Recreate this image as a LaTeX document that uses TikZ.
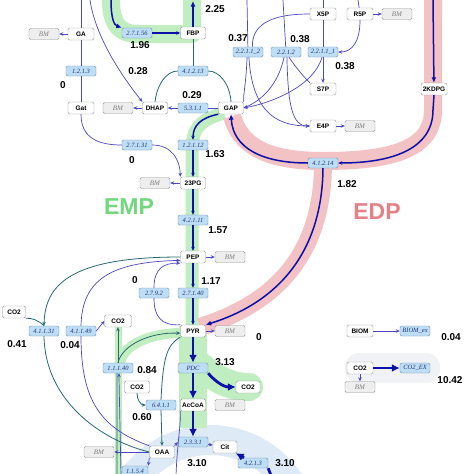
\documentclass[tikz,border=0pt]{standalone}
\usepackage{fontspec}
\setmainfont{Liberation Sans}
\newfontfamily\enzfamily{Liberation Serif}
\usetikzlibrary{arrows.meta}

\definecolor{rxnblue}{RGB}{78,72,190}
\definecolor{rxnteal}{RGB}{40,105,110}
\definecolor{mainblue}{RGB}{12,16,168}
\definecolor{enzfill}{RGB}{190,222,245}
\definecolor{enzline}{RGB}{110,145,180}
\definecolor{enztext}{RGB}{30,50,120}
\definecolor{metline}{RGB}{150,150,150}
\definecolor{bmfill}{RGB}{238,238,238}
\definecolor{empband}{RGB}{192,238,192}
\definecolor{emptext}{RGB}{115,215,125}
\definecolor{edpband}{RGB}{243,194,197}
\definecolor{edptext}{RGB}{228,128,135}
\definecolor{tcaband}{RGB}{222,234,245}
\definecolor{exband}{RGB}{240,242,245}

\tikzset{
  met/.style={draw=metline, fill=white, rounded corners=1.5, inner sep=0,
    minimum width=25, minimum height=12, font=\bfseries\fontsize{6.5}{7}\selectfont},
  enz/.style={draw=enzline, fill=enzfill, rounded corners=1.5, inner sep=0,
    minimum width=30, minimum height=10, text=enztext,
    font=\enzfamily\itshape\fontsize{6.5}{7}\selectfont},
  bm/.style={draw=metline, fill=bmfill, rounded corners=1.5, inner sep=0,
    minimum width=30, minimum height=11, text=gray,
    font=\enzfamily\itshape\fontsize{7}{8}\selectfont},
  flux/.style={font=\bfseries\fontsize{10}{12}\selectfont},
  rxn/.style={draw=rxnblue, line width=.7},
  rxnt/.style={draw=rxnteal, line width=.8},
  main/.style={draw=mainblue, line width=1.5},
  big/.style={draw=mainblue, line width=2.8},
  arr/.style={-{Stealth[length=4,width=3.5]}},
  midarr/.style={-{Latex[length=5.5,width=5]}},
  bigarr/.style={-{Latex[length=8,width=8]}},
}

\begin{document}
\begin{tikzpicture}[x=1pt,y=-1pt]
  \useasboundingbox (0,0) rectangle (474,474);
  \clip (0,0) rectangle (474,474);
  \fill[white] (0,0) rectangle (474,474);

  % pathway shading
  \draw[tcaband, line width=30] (210,535) circle[radius=95];
  \fill[exband, rounded corners=14] (345,353) rectangle (440,383);
  \draw[empband, line width=18, line join=round] (111,0) .. controls (111,22) and (118,34) .. (138,34) -- (192,34) -- (192,0);
  \draw[empband, line width=13] (224,113) .. controls (200,120) and (192,128) .. (192,150) -- (192,330);
  \draw[empband, line width=28] (193,326) -- (193,428);
  \draw[empband, line width=10] (182,333) .. controls (150,333) and (122,345) .. (120,364);
  \draw[empband, line width=7] (118,327) -- (118,474);
  \draw[empband, line width=28, line cap=round] (200,366) .. controls (215,378) and (228,387) .. (249,387);
  \draw[edpband, line width=18] (433,0) -- (433,110) .. controls (433,150) and (390,161) .. (323,161) .. controls (265,161) and (240,145) .. (232,116);
  \draw[edpband, line width=18] (323,165) .. controls (322,260) and (270,305) .. (200,327);

  \node[font=\bfseries\fontsize{23}{26}\selectfont, text=emptext] (emp) at (129,207) {EMP};
  \node[font=\bfseries\fontsize{23}{26}\selectfont, text=edptext] (edp) at (377,212) {EDP};

  % metabolites
  \node[met, minimum width=26] (ga) at (81,34) {GA};
  \node[met, minimum width=26] (gat) at (81,108) {Gat};
  \node[met] (dhap) at (155,108) {DHAP};
  \node[met] (gap) at (231,108) {GAP};
  \node[met] (fbp) at (193,33) {FBP};
  \node[met] (pg23) at (193,183) {23PG};
  \node[met] (pep) at (193,257) {PEP};
  \node[met] (pyr) at (193,331) {PYR};
  \node[met, minimum width=23] (co2a) at (14,312) {CO2};
  \node[met, minimum width=27] (co2b) at (118,321) {CO2};
  \node[met, minimum width=24] (co2c) at (248,387) {CO2};
  \node[met, minimum width=25] (co2d) at (137,387) {CO2};
  \node[met] (accoa) at (193,405) {AcCoA};
  \node[met] (oaa) at (162,452) {OAA};
  \node[met, minimum width=24] (cit) at (225,447) {Cit};
  \node[met, minimum width=26] (biom) at (360,331) {BIOM};
  \node[met, minimum width=26] (co2e) at (360,368) {CO2};
  \node[met, minimum width=26] (x5p) at (323,14) {X5P};
  \node[met, minimum width=26] (r5p) at (360,14) {R5P};
  \node[met, minimum width=26] (s7p) at (323,89) {S7P};
  \node[met, minimum width=26] (e4p) at (323,126) {E4P};
  \node[met, minimum width=26] (kdpg) at (434,89) {2KDPG};

  % biomass drains
  \node[bm] (bmga) at (44,34) {BM};
  \node[bm] (bmdhap) at (118,108) {BM};
  \node[bm] (bmpg) at (155,183) {BM};
  \node[bm] (bmpep) at (230,257) {BM};
  \node[bm] (bmpyr) at (230,331) {BM};
  \node[bm] (bmaccoa) at (230,405) {BM};
  \node[bm] (bmoaa) at (99,452) {BM};
  \node[bm] (bmr5p) at (397,14) {BM};
  \node[bm] (bme4p) at (360,126) {BM};
  \node[bm] (bmco2) at (360,387) {BM};

  % enzymes
  \node[enz] (e1213) at (81,71) {1.2.1.3};
  \node[enz] (e27131) at (137,145) {2.7.1.31};
  \node[enz] (e5311) at (193,108) {5.3.1.1};
  \node[enz] (e41213) at (193,71) {4.1.2.13};
  \node[enz] (e27156) at (137,33) {2.7.1.56};
  \node[enz] (e12112) at (193,145) {1.2.1.12};
  \node[enz] (e42111) at (193,220) {4.2.1.11};
  \node[enz] (e2792) at (154,293) {2.7.9.2};
  \node[enz] (e27140) at (193,293) {2.7.1.40};
  \node[enz] (e41131) at (44,331) {4.1.1.31};
  \node[enz] (e41149) at (81,331) {4.1.1.49};
  \node[enz] (e11140) at (118,368) {1.1.1.40};
  \node[enz] (pdc) at (193,368) {PDC};
  \node[enz] (e6411) at (161,405) {6.4.1.1};
  \node[enz] (e2331) at (193,442) {2.3.3.1};
  \node[enz, minimum width=26] (e1154) at (135,471) {1.1.5.4};
  \node[enz] (e4213) at (253,463) {4.2.1.3};
  \node[enz] (biomex) at (415,331) {BIOM\_ex};
  \node[enz] (co2ex) at (415,368) {CO2\_EX};
  \node[enz] (e22112) at (248,52) {2.2.1.1\_2};
  \node[enz] (e2212) at (286,52) {2.2.1.2};
  \node[enz] (e22111) at (323,52) {2.2.1.1\_1};
  \node[enz] (e41214) at (323,163) {4.1.2.14};

  % fluxes
  \node[flux] (v1) at (215,9) {2.25};
  \node[flux] (v2) at (140,45) {1.96};
  \node[flux] (v3) at (63,85) {0};
  \node[flux] (v4) at (138,71) {0.28};
  \node[flux] (v5) at (192,95) {0.29};
  \node[flux] (v6) at (215,154) {1.63};
  \node[flux] (v7) at (132,160) {0};
  \node[flux] (v8) at (218,230) {1.57};
  \node[flux] (v9) at (135,280) {0};
  \node[flux] (v10) at (211,281) {1.17};
  \node[flux] (v11) at (17,344) {0.41};
  \node[flux] (v12) at (70,345) {0.04};
  \node[flux] (v13) at (147,370) {0.84};
  \node[flux] (v14) at (225,362) {3.13};
  \node[flux] (v15) at (259,337) {0};
  \node[flux] (v16) at (142,417) {0.60};
  \node[flux] (v17) at (197,463) {3.10};
  \node[flux] (v18) at (285,463) {3.10};
  \node[flux] (v19) at (451,337) {0.04};
  \node[flux] (v20) at (450,380) {10.42};
  \node[flux] (v21) at (238,38) {0.37};
  \node[flux] (v22) at (300,39) {0.38};
  \node[flux] (v23) at (345,66) {0.38};
  \node[flux] (v24) at (347,184) {1.82};

  % loose ends at the border
  \coordinate (inga) at (81,0);
  \coordinate (indhap) at (90,0);
  \coordinate (inhk) at (111,0);
  \coordinate (outfbp) at (193,1);
  \coordinate (intka) at (247,0);
  \coordinate (intal) at (283,0);
  \coordinate (inx5p) at (323,0);
  \coordinate (inr5p) at (358,0);
  \coordinate (inkdpg) at (433,0);
  \coordinate (inmaea) at (117,476);
  \coordinate (inmaeb) at (121,476);
  \coordinate (outaccoa) at (176,476);
  \coordinate (intca) at (272,478);

  % upper glycolysis
  \draw[rxn] (inga) -- (ga);
  \draw[rxn, arr] (ga) -- (bmga);
  \draw[rxn] (ga) -- (e1213) -- (gat);
  \draw[rxn] (gat.south) .. controls (81,138) and (98,145) .. (e27131.west);
  \draw[rxn, arr] (e27131.east) .. controls (172,145) and (180,160) .. (pg23.north west);
  \draw[rxn, arr] (indhap) .. controls (96,40) and (125,80) .. (dhap.north west);
  \draw[rxn, arr] (dhap) -- (bmdhap);
  \draw[rxn, arr] (gap) -- (e5311) -- (dhap);
  \draw[rxnt] (fbp) -- (e41213);
  \draw[rxnt] (e41213.west) .. controls (166,71) and (157,85) .. (dhap.north);
  \draw[rxnt] (e41213.east) .. controls (220,71) and (230,85) .. (gap.north);
  \draw[main, midarr] (inhk) .. controls (111,18) and (114,25) .. (e27156.north west);
  \draw[main, arr] (e27156) -- (fbp);
  \draw[main, midarr] (fbp) -- (outfbp);

  % pentose phosphates
  \draw[rxn] (intka) -- (e22112);
  \draw[rxn] (intal) -- (e2212);
  \draw[rxn] (inx5p) -- (x5p);
  \draw[rxn] (inr5p) -- (r5p);
  \draw[rxn] (x5p.west) .. controls (265,14) and (252,28) .. (e22112.50);
  \draw[rxn] (x5p) -- (e22111);
  \draw[rxn, arr] (r5p.south) .. controls (360,42) and (352,52) .. (e22111.east);
  \draw[rxn, arr] (r5p) -- (bmr5p);
  \draw[rxn, arr] (e22111) -- (s7p);
  \draw[rxn, arr] (e22111.-100) .. controls (314,85) and (275,102) .. (gap.east);
  \draw[rxn] (e2212.-60) .. controls (296,68) and (305,78) .. (s7p.north west);
  \draw[rxn, arr] (e2212.-110) .. controls (278,85) and (262,100) .. (gap.east);
  \draw[rxn, arr] (e2212.-80) .. controls (288,105) and (292,126) .. (e4p.west);
  \draw[rxn] (e22112.-100) .. controls (246,85) and (243,95) .. (gap.north east);
  \draw[rxn, arr] (e22112.-80) .. controls (252,110) and (275,126) .. (e4p.west);
  \draw[rxn, arr] (e4p) -- (bme4p);

  % Entner-Doudoroff
  \draw[main, midarr] (inkdpg) -- (kdpg);
  \draw[main, arr] (kdpg.south) -- (433,110) .. controls (433,150) and (390,163) .. (e41214.east);
  \draw[main, midarr] (e41214.west) .. controls (262,163) and (233,148) .. (gap.south);
  \draw[main, midarr] (e41214.south) .. controls (322,260) and (270,305) .. (pyr.north east);

  % lower glycolysis
  \draw[main, arr] (gap.south west) .. controls (200,118) and (193,126) .. (e12112.north);
  \draw[main, arr] (e12112) -- (pg23);
  \draw[main, arr] (pg23) -- (e42111);
  \draw[main, arr] (e42111) -- (pep);
  \draw[main, arr] (pep) -- (e27140);
  \draw[main, arr] (e27140) -- (pyr);
  \draw[rxn, arr] (pg23) -- (bmpg);
  \draw[rxn, arr] (pep) -- (bmpep);
  \draw[rxn, arr] (pyr) -- (bmpyr);
  \draw[rxn] (pyr.north west) .. controls (160,326) and (154,315) .. (e2792.south);
  \draw[rxn, arr] (e2792.north) .. controls (154,268) and (164,263) .. (pep.south west);

  % anaplerosis
  \draw[rxnt, arr] (pep.west) .. controls (70,257) and (45,285) .. (e41131.north);
  \draw[rxnt] (co2a.south east) .. controls (32,318) and (38,320) .. (e41131.north);
  \draw[rxnt] (e41131.south) .. controls (45,400) and (100,440) .. (oaa.west);
  \draw[rxn] (oaa.north west) .. controls (100,428) and (81,400) .. (e41149.south);
  \draw[rxn, arr] (e41149.north) .. controls (82,280) and (110,262) .. (pep.195);
  \draw[rxn, arr] (e41149.east) -- (co2b.west);
  \draw[rxnt] (inmaea) -- (e11140.-100);
  \draw[rxn, arr] (inmaeb) -- (e11140.-80);
  \draw[rxnt, arr] (e11140.north) -- (co2b.south);
  \draw[rxnt, arr] (e11140.north) .. controls (122,345) and (150,332) .. (pyr.190);
  \draw[rxnt] (pyr.south west) .. controls (166,345) and (163,360) .. (e6411.north);
  \draw[rxnt, arr] (e6411.south) -- (oaa.north);
  \draw[rxnt, arr] (co2d.south) .. controls (137,400) and (141,405) .. (e6411.west);
  \draw[rxn, arr] (oaa) -- (bmoaa);
  \draw[rxn, arr] (oaa.south west) -- (e1154.north east);
  \draw[rxn, arr] (oaa.north east) -- (e2331.west);
  \draw[rxn] (accoa.south west) .. controls (181,425) and (177,445) .. (outaccoa);

  % main flux into TCA
  \draw[big, bigarr] (pyr) -- (pdc);
  \draw[big, bigarr] (pdc) -- (accoa);
  \draw[big, bigarr] (accoa) -- (e2331);
  \draw[big, bigarr] (pdc.south east) .. controls (212,378) and (222,387) .. (co2c.west);
  \draw[rxn, arr] (e2331) -- (cit);
  \draw[big] (intca) -- (e4213.south east);
  \draw[big, bigarr] (e4213.150) -- (cit.-30);

  % exchange
  \draw[rxn, arr] (biom) -- (biomex);
  \draw[big, bigarr] (co2e) -- (co2ex);
  \draw[rxn, arr] (co2e) -- (bmco2);
\end{tikzpicture}
\end{document}
